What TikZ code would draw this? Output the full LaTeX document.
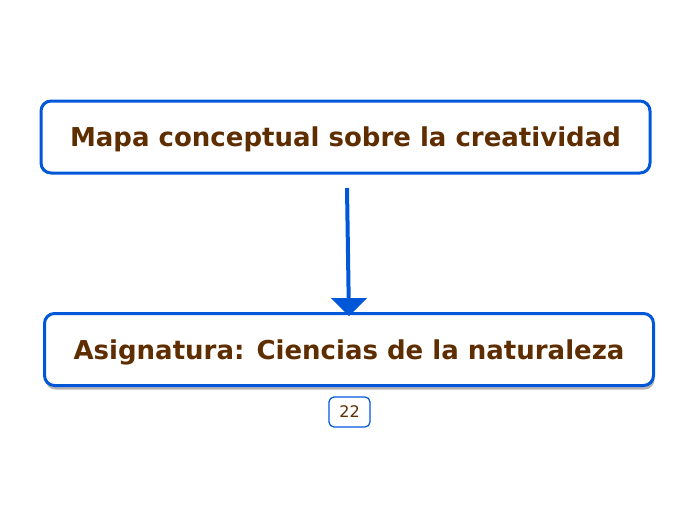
\documentclass[tikz,border=0pt]{standalone}
\usepackage{fontspec}
\setmainfont{DejaVu Sans}
\usetikzlibrary{shadows}
\definecolor{bl}{HTML}{0057D8}
\definecolor{br}{HTML}{5E2E00}
\begin{document}
\begin{tikzpicture}[x=1pt,y=-1pt,
 box/.style={draw=bl,line width=3pt,rounded corners=10pt,fill=white,minimum width=609pt,minimum height=72pt,text=br,text depth=-2pt,font=\fontsize{26}{30}\selectfont\bfseries},
 badge/.style={draw=bl,line width=1.2pt,rounded corners=5pt,minimum width=41pt,minimum height=30pt,text=br,font=\fontsize{16}{19}\selectfont}]
\useasboundingbox (0,0) rectangle (696,520);
\node[box] (a) at (345.5,137) {Mapa conceptual sobre la creatividad};
\node[box,drop shadow={shadow xshift=1pt,shadow yshift=-4pt,opacity=0.6}] (b) at (349,349.5) {Asignatura: Ciencias de la naturaleza};
\node[badge] (c) at (349.5,412) {22};
\coordinate (s) at (347,188);
\draw[bl,line width=4pt] (s) -- (348.7,300);
\fill[bl] (331,298) -- (367,298) -- (349,316) -- cycle;
\end{tikzpicture}
\end{document}
